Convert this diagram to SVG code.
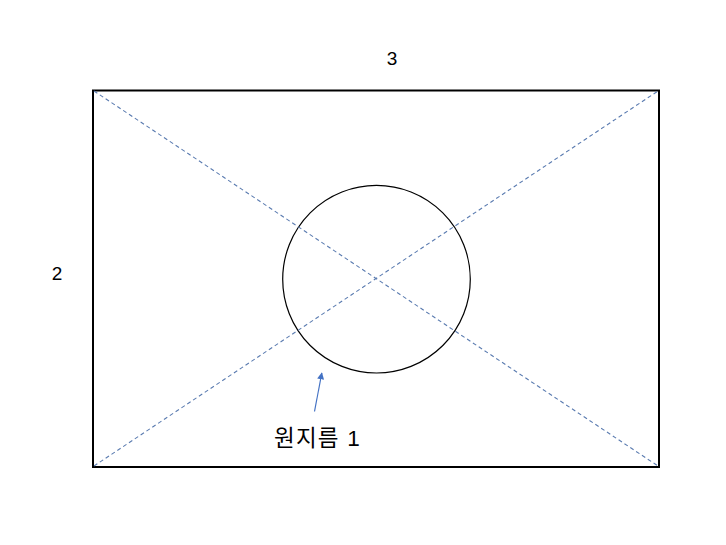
<svg xmlns="http://www.w3.org/2000/svg" width="726" height="545" viewBox="0 0 726 545">
<style>
.t{font-family:"Liberation Sans","Noto Sans CJK KR",sans-serif;font-size:19px;fill:#000}
.d{stroke:#5a7bb0;stroke-width:1.1;stroke-dasharray:4,3;fill:none}
</style>
<defs>
<marker id="ah" viewBox="0 0 10 10" refX="9" refY="5" markerWidth="7" markerHeight="7" orient="auto" markerUnits="userSpaceOnUse">
<path d="M0,0 L10,5 L0,10 z" fill="#4472c4"/>
</marker>
</defs>
<rect width="726" height="545" fill="#fff"/>
<g id="frame">
<rect x="93" y="90.5" width="566" height="376.5" fill="none" stroke="#000" stroke-width="2"/>
</g>
<g id="circle">
<circle cx="376.5" cy="279.2" r="93.8" fill="none" stroke="#000" stroke-width="1.2"/>
</g>
<g id="connectors">
<line class="d" x1="94" y1="91" x2="658" y2="466"/>
<line class="d" x1="94" y1="466" x2="658" y2="91"/>
<line x1="314.5" y1="411.5" x2="321.8" y2="373" stroke="#4472c4" stroke-width="1.2" marker-end="url(#ah)"/>
</g>
<g id="labels">
<text class="t" x="392" y="65" text-anchor="middle">3</text>
<text class="t" x="57" y="280" text-anchor="middle">2</text>
<text class="t" x="274" y="446" style="font-size:22.5px;letter-spacing:1.2px">원지름 1</text>
</g>
</svg>
